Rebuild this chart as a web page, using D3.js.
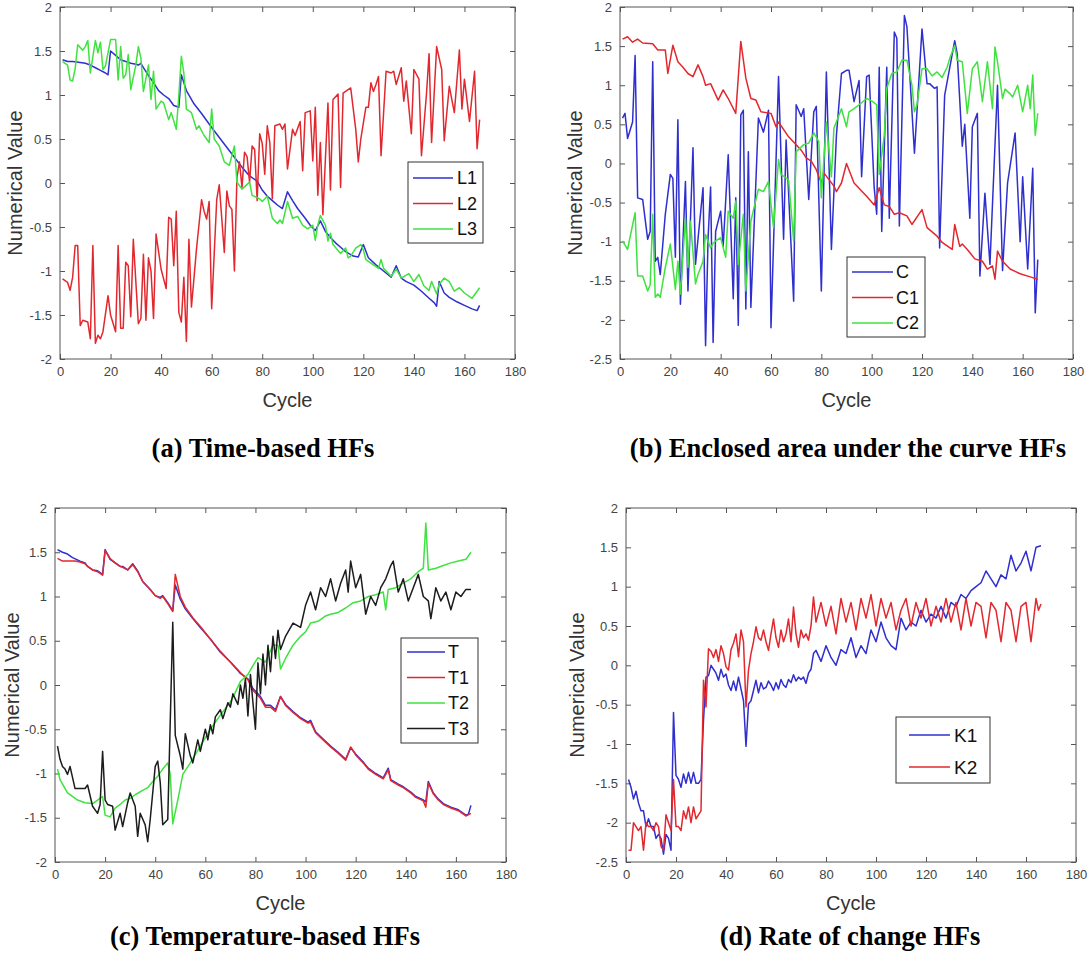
<!DOCTYPE html>
<html>
<head>
<meta charset="utf-8">
<script src="https://cdn.jsdelivr.net/npm/d3@7"></script>
<style>
  body { margin: 0; background: #fff; }
  svg { display: block; font-family: "Liberation Sans", Arial, sans-serif; }
  .tick text { font-size: 13px; fill: #444; }
  .tick line { stroke: #555; }
  .axisLabel { font-size: 20px; fill: #333; }
  .title { font-family: "Liberation Serif", "Times New Roman", serif; font-weight: bold; font-size: 26.5px; fill: #000; }
  .legText { fill: #111; }
</style>
</head>
<body>
<div id="chart"></div>
<script>
// ---- shared ticks ----
let arrXTicks = [0, 20, 40, 60, 80, 100, 120, 140, 160, 180];
let arrYTicksA = [-2, -1.5, -1, -0.5, 0, 0.5, 1, 1.5, 2];
let arrYTicksB = [-2.5, -2, -1.5, -1, -0.5, 0, 0.5, 1, 1.5, 2];

// ---- (a) Time-based HFs : [cycle, value] ----
let arrL1 = [[1,1.40],[3,1.38],[5,1.38],[8,1.37],[10,1.36],[12,1.34],[14,1.31],[16,1.28],[18,1.25],[19,1.23],[20,1.50],[22,1.45],[24,1.40],[26,1.38],[28,1.36],[30,1.35],[31,1.34],[32,1.36],[33,1.31],[35,1.22],[37,1.14],[39,1.05],[41,1.00],[43,0.96],[45,0.88],[47,0.86],[48,1.23],[50,1.05],[53,0.90],[56,0.79],[60,0.63],[64,0.48],[68,0.33],[72,0.18],[75,0.08],[78,0.02],[80,-0.08],[82,-0.15],[84,-0.20],[86,-0.25],[88,-0.29],[90,-0.10],[92,-0.20],[94,-0.29],[97,-0.40],[99,-0.48],[101,-0.54],[103,-0.43],[105,-0.55],[107,-0.62],[109,-0.68],[111,-0.73],[113,-0.78],[116,-0.83],[118,-0.84],[120,-0.70],[122,-0.85],[125,-0.93],[128,-1.00],[131,-1.07],[133,-0.94],[135,-1.08],[137,-1.12],[140,-1.16],[143,-1.23],[146,-1.31],[148,-1.36],[149,-1.40],[150,-1.12],[152,-1.25],[154,-1.30],[157,-1.35],[160,-1.39],[163,-1.43],[165,-1.45],[166,-1.39]];
let arrL2 = [[1,-1.09],[3,-1.13],[4,-1.22],[5,-1.07],[6,-0.71],[7,-0.71],[8,-1.62],[9,-1.56],[11,-1.58],[12,-1.77],[13,-0.71],[14,-1.82],[15,-1.73],[16,-1.77],[17,-1.69],[19,-1.28],[20,-1.50],[22,-1.69],[23,-0.71],[24,-1.65],[25,-1.65],[26,-0.90],[27,-0.94],[28,-1.52],[29,-0.64],[31,-1.60],[32,-1.54],[33,-0.81],[34,-1.56],[35,-0.85],[36,-1.00],[37,-1.54],[38,-0.58],[40,-0.98],[42,-1.20],[43,-0.39],[44,-0.41],[45,-0.94],[46,-0.32],[47,-1.47],[48,-1.58],[49,-1.07],[50,-1.80],[51,-0.64],[52,-1.41],[54,-0.75],[56,-0.19],[57,-0.32],[58,-0.41],[59,-0.21],[60,-1.43],[62,-0.19],[63,-0.02],[65,-0.79],[66,-0.09],[67,-0.26],[68,-0.30],[69,-1.00],[70,0.06],[71,0.24],[72,-0.05],[73,0.35],[74,0.30],[75,0.01],[76,0.42],[77,0.38],[78,-0.20],[79,0.56],[80,0.45],[81,0.10],[82,0.65],[83,0.46],[84,-0.18],[85,0.65],[87,0.67],[88,0.61],[89,0.67],[90,0.16],[92,0.61],[93,0.54],[95,0.70],[96,0.14],[97,0.80],[99,0.82],[100,0.25],[101,0.86],[102,-0.14],[103,0.46],[104,-0.36],[106,0.91],[107,-0.08],[108,0.95],[110,1.01],[111,-0.05],[112,1.02],[115,1.08],[117,0.61],[118,0.24],[119,0.50],[121,0.86],[122,0.86],[123,1.14],[124,1.04],[125,1.12],[126,1.21],[127,0.31],[129,1.27],[131,1.25],[132,1.27],[133,1.12],[135,1.31],[136,0.93],[137,1.16],[139,0.56],[140,1.29],[142,1.18],[143,0.31],[145,1.02],[146,1.47],[147,0.46],[149,1.55],[151,1.29],[152,0.48],[154,1.10],[156,0.80],[158,1.51],[159,0.84],[160,1.18],[162,0.70],[164,1.27],[165,0.39],[166,0.72]];
let arrL3 = [[1,1.38],[3,1.34],[4,1.17],[5,1.16],[6,1.30],[7,1.57],[9,1.51],[10,1.55],[11,1.62],[12,1.25],[14,1.62],[15,1.48],[16,1.60],[17,1.29],[18,1.33],[20,1.63],[22,1.63],[23,1.17],[24,1.55],[25,1.19],[26,1.23],[27,1.46],[28,1.06],[30,1.34],[31,1.55],[32,1.42],[33,1.04],[35,1.34],[36,0.95],[37,1.27],[38,0.84],[40,0.93],[41,0.91],[43,0.72],[44,0.80],[46,0.61],[47,0.99],[48,1.44],[49,1.25],[50,0.84],[52,0.80],[54,0.61],[55,0.65],[57,0.54],[59,0.46],[60,0.84],[61,0.50],[63,0.42],[65,0.24],[67,0.20],[69,0.42],[70,0.01],[72,-0.07],[75,0.01],[76,-0.14],[79,-0.18],[80,-0.21],[82,-0.15],[84,-0.40],[86,-0.46],[87,-0.42],[88,-0.46],[90,-0.21],[92,-0.40],[94,-0.38],[96,-0.48],[98,-0.52],[100,-0.48],[101,-0.65],[102,-0.48],[103,-0.37],[105,-0.48],[106,-0.66],[107,-0.57],[108,-0.70],[111,-0.80],[113,-0.74],[114,-0.85],[115,-0.83],[117,-0.74],[119,-0.70],[120,-0.76],[121,-0.87],[124,-0.93],[126,-0.97],[127,-0.87],[128,-0.97],[131,-1.06],[133,-0.98],[135,-1.08],[138,-1.03],[140,-1.12],[142,-1.04],[144,-1.17],[146,-1.22],[147,-1.12],[149,-1.26],[150,-1.15],[152,-1.08],[154,-1.12],[156,-1.23],[158,-1.19],[160,-1.25],[163,-1.31],[165,-1.23],[166,-1.19]];

// ---- (b) Enclosed area under the curve HFs ----
let arrC = [[1,0.58],[2,0.64],[3,0.32],[5,0.53],[6,1.38],[7,-0.44],[9,-0.46],[11,-0.97],[12,-0.87],[13,1.30],[14,-1.25],[15,-1.20],[16,-1.42],[18,-0.65],[20,-0.14],[21,-0.19],[22,-1.20],[23,0.56],[24,-1.80],[26,-0.23],[27,-1.63],[29,0.20],[30,-1.29],[33,-0.31],[34,-2.33],[35,-0.95],[36,-0.30],[37,-2.29],[38,-0.87],[40,-0.61],[41,-1.06],[43,0.11],[45,-1.73],[46,-0.44],[47,-2.07],[48,0.62],[49,0.68],[50,-1.86],[51,0.15],[52,-1.84],[55,0.58],[57,0.40],[59,0.68],[60,-2.10],[63,1.11],[65,-0.97],[66,0.30],[69,-1.76],[70,0.75],[72,0.60],[73,0.70],[75,-0.46],[77,0.66],[78,0.73],[80,-1.63],[82,1.17],[84,-1.10],[86,0.36],[88,1.15],[90,1.19],[91,1.19],[93,0.79],[95,1.06],[96,-0.17],[98,1.11],[99,1.13],[101,-0.31],[102,-0.65],[103,1.23],[104,-0.87],[106,1.23],[107,-0.70],[109,1.68],[110,1.60],[111,-0.80],[113,1.89],[114,1.75],[117,0.13],[120,1.72],[122,1.02],[123,1.02],[125,0.96],[126,0.98],[127,-1.08],[129,0.87],[133,1.57],[134,1.40],[136,0.22],[137,0.50],[139,-0.70],[140,0.47],[142,0.64],[143,-1.44],[145,-0.38],[147,-1.29],[150,1.00],[152,-1.37],[154,-0.25],[157,0.39],[159,-1.00],[160,-0.17],[162,-1.35],[164,-0.06],[165,-1.91],[166,-1.23]];
let arrC1 = [[1,1.59],[3,1.62],[5,1.55],[7,1.59],[9,1.54],[13,1.53],[15,1.45],[18,1.45],[19,1.15],[21,1.51],[23,1.30],[25,1.23],[27,1.15],[29,1.11],[31,1.26],[33,1.11],[34,1.00],[36,1.02],[39,0.81],[41,0.94],[43,0.83],[46,0.64],[48,1.56],[50,1.09],[52,0.83],[54,0.81],[56,0.66],[60,0.64],[62,0.47],[63,0.53],[67,0.34],[70,0.24],[72,0.17],[74,0.07],[76,0.03],[78,-0.08],[80,-0.25],[81,-0.12],[85,-0.29],[86,-0.36],[88,-0.25],[90,0.00],[93,-0.25],[98,-0.42],[101,-0.53],[103,-0.31],[105,-0.53],[107,-0.55],[109,-0.65],[111,-0.63],[114,-0.67],[116,-0.78],[120,-0.59],[122,-0.82],[126,-0.93],[128,-1.01],[132,-1.10],[133,-0.78],[135,-1.06],[136,-1.03],[138,-1.10],[141,-1.22],[144,-1.25],[146,-1.35],[148,-1.31],[149,-1.48],[150,-1.12],[152,-1.25],[155,-1.35],[159,-1.41],[163,-1.45],[166,-1.48]];
let arrC2 = [[1,-0.99],[3,-1.10],[6,-0.63],[7,-1.44],[9,-1.44],[11,-1.63],[12,-1.55],[13,-0.65],[14,-1.71],[15,-1.67],[16,-1.71],[18,-1.33],[20,-1.03],[22,-1.61],[23,-1.25],[24,-1.67],[26,-0.70],[27,-1.33],[28,-0.74],[30,-1.54],[31,-1.42],[33,-1.25],[34,-0.91],[36,-1.08],[37,-1.02],[38,-0.99],[40,-0.95],[42,-1.20],[43,-0.61],[45,-0.70],[46,-0.48],[47,-1.29],[49,-0.65],[50,-1.63],[52,-0.74],[53,-0.60],[55,-0.33],[57,-0.36],[59,-0.23],[61,-0.82],[63,0.05],[64,-0.14],[67,-0.21],[69,-0.99],[70,0.15],[73,0.24],[75,0.26],[77,0.39],[79,0.28],[80,-0.44],[82,0.53],[84,-0.17],[85,0.45],[88,0.70],[90,0.47],[91,0.66],[93,0.70],[95,0.75],[98,0.83],[100,0.80],[102,0.75],[103,-0.14],[105,0.36],[106,0.96],[108,1.15],[110,1.17],[112,1.32],[114,1.32],[116,1.00],[117,0.66],[118,0.75],[120,1.21],[122,1.21],[124,1.12],[126,1.17],[128,1.10],[130,1.23],[131,1.34],[133,1.51],[134,1.32],[136,1.30],[138,0.64],[140,1.21],[142,1.30],[144,0.79],[146,1.30],[148,0.70],[149,1.49],[150,1.30],[152,0.83],[153,0.95],[155,0.89],[156,0.85],[158,1.00],[160,0.66],[162,1.00],[163,0.70],[164,1.13],[165,0.36],[166,0.64]];

// ---- (c) Temperature-based HFs ----
let arrT = [[1,1.53],[3,1.50],[5,1.48],[7,1.44],[10,1.40],[12,1.38],[13,1.34],[15,1.30],[17,1.29],[19,1.25],[20,1.53],[22,1.42],[24,1.38],[26,1.34],[27,1.34],[29,1.30],[31,1.37],[33,1.29],[35,1.17],[38,1.08],[40,1.01],[42,0.99],[43,1.01],[45,0.93],[47,0.84],[48,1.13],[50,0.97],[52,0.86],[55,0.75],[58,0.65],[62,0.52],[66,0.37],[70,0.26],[74,0.13],[77,0.07],[79,-0.04],[82,-0.13],[84,-0.23],[86,-0.23],[88,-0.28],[90,-0.13],[92,-0.22],[95,-0.30],[98,-0.37],[101,-0.42],[102,-0.40],[104,-0.53],[107,-0.61],[110,-0.69],[113,-0.76],[116,-0.84],[118,-0.71],[120,-0.78],[123,-0.87],[125,-0.94],[128,-1.00],[131,-1.05],[133,-0.94],[134,-1.07],[137,-1.12],[139,-1.15],[142,-1.21],[144,-1.26],[147,-1.30],[148,-1.32],[149,-1.09],[151,-1.22],[153,-1.29],[155,-1.34],[158,-1.38],[161,-1.41],[164,-1.47],[165,-1.46],[166,-1.36]];
let arrT1 = [[1,1.43],[3,1.40],[5,1.40],[8,1.40],[10,1.39],[12,1.37],[13,1.34],[15,1.30],[17,1.28],[19,1.24],[20,1.52],[22,1.43],[24,1.38],[26,1.34],[27,1.33],[29,1.30],[31,1.36],[33,1.28],[35,1.17],[38,1.08],[40,1.01],[42,0.98],[43,1.00],[45,0.92],[47,0.83],[48,1.25],[50,1.00],[52,0.88],[55,0.76],[58,0.66],[62,0.52],[66,0.38],[70,0.26],[74,0.14],[77,0.06],[79,-0.06],[82,-0.15],[84,-0.25],[86,-0.25],[88,-0.30],[90,-0.13],[92,-0.23],[95,-0.31],[98,-0.38],[101,-0.43],[102,-0.42],[104,-0.54],[107,-0.62],[110,-0.70],[113,-0.77],[116,-0.85],[118,-0.70],[120,-0.79],[123,-0.88],[125,-0.95],[128,-1.01],[131,-1.06],[133,-0.96],[134,-1.08],[137,-1.13],[139,-1.16],[142,-1.22],[144,-1.27],[147,-1.31],[148,-1.38],[149,-1.11],[151,-1.23],[153,-1.30],[155,-1.35],[158,-1.39],[161,-1.42],[164,-1.48],[166,-1.45]];
let arrT2 = [[1,-0.95],[2,-1.07],[5,-1.22],[9,-1.30],[12,-1.33],[15,-1.34],[17,-1.30],[19,-1.26],[20,-1.47],[22,-1.49],[24,-1.39],[26,-1.35],[28,-1.30],[30,-1.28],[32,-1.24],[35,-1.19],[37,-1.16],[39,-1.09],[41,-1.03],[43,-0.95],[45,-0.88],[46,-1.01],[47,-1.57],[49,-1.30],[51,-1.01],[54,-0.88],[58,-0.69],[62,-0.50],[66,-0.34],[70,-0.19],[72,-0.08],[74,0.04],[77,0.12],[79,0.22],[81,0.31],[84,0.26],[87,0.45],[89,0.45],[90,0.18],[92,0.30],[95,0.45],[98,0.55],[100,0.60],[102,0.70],[105,0.72],[108,0.78],[110,0.80],[113,0.82],[116,0.87],[119,0.93],[122,0.95],[125,1.00],[128,1.02],[131,1.05],[132,0.85],[133,1.08],[136,1.10],[139,1.15],[142,1.20],[145,1.28],[147,1.32],[148,1.83],[149,1.30],[152,1.32],[155,1.35],[158,1.38],[161,1.40],[164,1.42],[166,1.50]];
let arrT3 = [[1,-0.69],[2,-0.84],[3,-0.92],[4,-0.95],[5,-1.01],[6,-0.92],[8,-1.17],[10,-1.17],[12,-1.17],[13,-1.13],[15,-1.37],[17,-1.45],[18,-1.35],[19,-0.75],[20,-1.30],[21,-1.35],[23,-1.37],[24,-1.64],[26,-1.45],[27,-1.60],[29,-1.33],[30,-1.22],[32,-1.37],[33,-1.71],[34,-1.45],[36,-1.58],[37,-1.77],[38,-1.52],[40,-0.92],[41,-0.86],[42,-1.10],[43,-1.58],[45,-1.52],[47,0.71],[48,-0.57],[50,-0.80],[51,-0.95],[52,-0.55],[54,-0.80],[55,-0.88],[57,-0.62],[58,-0.75],[60,-0.50],[61,-0.62],[62,-0.45],[63,-0.55],[64,-0.36],[66,-0.28],[67,-0.38],[69,-0.20],[70,-0.25],[71,-0.10],[73,-0.22],[74,0.00],[75,-0.15],[76,0.07],[77,-0.35],[78,0.12],[79,-0.20],[80,-0.50],[81,0.25],[82,-0.10],[83,0.35],[84,0.00],[85,0.45],[86,0.15],[87,0.55],[88,0.30],[89,0.62],[90,0.40],[92,0.55],[95,0.70],[98,0.65],[100,0.90],[102,1.05],[104,0.85],[106,1.10],[108,1.00],[110,1.20],[112,0.95],[114,1.15],[116,1.30],[117,1.05],[118,1.40],[120,1.10],[122,1.25],[124,0.80],[126,1.00],[128,0.90],[130,1.10],[132,1.20],[134,1.35],[135,1.40],[137,1.05],[139,1.20],[141,0.95],[143,1.10],[145,1.25],[147,1.00],[149,0.95],[150,0.75],[152,1.10],[154,0.95],[156,1.05],[158,0.85],[160,1.05],[162,1.00],[164,1.08],[166,1.08]];

// ---- (d) Rate of change HFs ----
let arrK1 = [[1,-1.45],[2,-1.55],[3,-1.70],[4,-1.60],[5,-1.75],[6,-1.85],[7,-1.85],[8,-2.05],[9,-1.95],[10,-2.05],[11,-2.05],[12,-2.20],[13,-2.15],[14,-2.20],[15,-2.40],[16,-2.15],[17,-2.20],[18,-2.35],[19,-0.60],[20,-1.40],[21,-1.45],[22,-1.55],[23,-1.38],[24,-1.50],[25,-1.36],[26,-1.50],[27,-1.36],[28,-1.50],[29,-1.50],[30,-1.45],[31,-0.70],[32,-0.15],[33,-0.13],[34,0.00],[35,-0.05],[36,-0.10],[37,-0.19],[38,-0.05],[39,-0.15],[40,-0.11],[41,-0.25],[42,-0.32],[43,-0.20],[44,-0.32],[45,-0.15],[46,-0.30],[47,-0.45],[48,-1.03],[49,-0.49],[50,-0.45],[51,-0.32],[52,-0.19],[53,-0.35],[54,-0.22],[55,-0.30],[56,-0.28],[57,-0.20],[58,-0.25],[59,-0.32],[60,-0.22],[61,-0.30],[62,-0.18],[63,-0.25],[64,-0.28],[65,-0.18],[66,-0.22],[67,-0.12],[68,-0.20],[69,-0.15],[70,-0.18],[71,-0.15],[72,-0.23],[73,-0.10],[74,-0.05],[75,0.15],[76,0.19],[78,0.05],[80,0.25],[82,0.10],[84,0.00],[86,0.20],[88,0.15],[90,0.35],[92,0.10],[94,0.25],[96,0.15],[98,0.45],[100,0.30],[102,0.55],[104,0.35],[106,0.25],[108,0.20],[110,0.60],[112,0.45],[114,0.55],[116,0.50],[118,0.70],[120,0.55],[122,0.65],[124,0.60],[126,0.75],[128,0.60],[130,0.80],[132,0.75],[134,0.90],[136,0.85],[138,0.95],[140,1.00],[142,1.05],[144,1.20],[146,1.10],[148,1.00],[150,1.15],[152,1.10],[154,1.40],[156,1.20],[158,1.30],[160,1.45],[162,1.20],[164,1.50],[166,1.52]];
let arrK2 = [[1,-2.35],[2,-2.35],[3,-2.00],[4,-2.05],[5,-2.10],[6,-2.05],[7,-2.35],[8,-2.00],[9,-2.05],[10,-2.05],[11,-2.10],[12,-2.00],[13,-2.05],[14,-2.30],[15,-2.35],[16,-1.90],[17,-2.00],[18,-2.10],[19,-1.45],[20,-2.05],[21,-2.05],[22,-2.10],[23,-1.85],[24,-1.95],[25,-1.80],[26,-2.00],[27,-1.80],[28,-1.95],[29,-1.90],[30,-1.85],[31,-0.19],[32,-0.53],[33,0.21],[34,0.18],[35,0.10],[36,0.20],[37,0.05],[38,0.25],[39,0.15],[40,-0.02],[41,-0.06],[42,0.20],[43,0.28],[44,0.40],[45,0.11],[46,0.45],[47,0.30],[48,-0.53],[49,-0.06],[50,0.15],[51,0.30],[52,0.49],[53,0.35],[54,0.32],[55,0.45],[56,0.30],[57,0.19],[58,0.40],[59,0.59],[60,0.35],[61,0.23],[62,0.45],[63,0.30],[64,0.40],[65,0.59],[66,0.30],[67,0.74],[68,0.40],[69,0.23],[70,0.45],[71,0.35],[72,0.40],[73,0.32],[74,0.50],[75,0.87],[76,0.55],[78,0.80],[80,0.50],[82,0.75],[84,0.40],[86,0.85],[88,0.55],[90,0.80],[92,0.45],[94,0.85],[96,0.60],[98,0.90],[100,0.50],[102,0.85],[104,0.60],[106,0.80],[108,0.45],[110,0.70],[112,0.85],[114,0.50],[116,0.80],[118,0.60],[120,0.85],[122,0.50],[124,0.75],[126,0.55],[128,0.85],[130,0.55],[132,0.80],[134,0.45],[136,0.85],[138,0.50],[140,0.80],[142,0.75],[144,0.35],[146,0.80],[148,0.70],[150,0.30],[152,0.80],[154,0.70],[156,0.30],[158,0.75],[160,0.80],[162,0.30],[164,0.85],[165,0.70],[166,0.78]];

// line colours (MATLAB-like)
let strBlue = "#2f2fcf";
let strRed = "#e2282e";
let strGreen = "#3fe23f";
let strBlack = "#1c1c1c";

// panel layout
let arrPanels = [
  { left: 60, top: 7, width: 455, height: 352, yDomain: [-2, 2], yTicks: arrYTicksA,
    series: [{ name: "L1", data: arrL1, color: strBlue }, { name: "L2", data: arrL2, color: strRed }, { name: "L3", data: arrL3, color: strGreen }],
    legend: { x: 408, y: 162, w: 75, h: 81, rowY: 16, rowGap: 25.5, lx1: 5, lx2: 45, tx: 49, size: 18 },
    yLabelX: 15, title: "(a) Time-based HFs", titleX: 263, titleY: 448 },
  { left: 620, top: 7, width: 453, height: 352, yDomain: [-2.5, 2], yTicks: arrYTicksB,
    series: [{ name: "C", data: arrC, color: strBlue }, { name: "C1", data: arrC1, color: strRed }, { name: "C2", data: arrC2, color: strGreen }],
    legend: { x: 847, y: 257, w: 78, h: 80, rowY: 15, rowGap: 25.5, lx1: 5, lx2: 46, tx: 49, size: 18 },
    yLabelX: 575, title: "(b) Enclosed area under the curve HFs", titleX: 848, titleY: 448 },
  { left: 55, top: 508, width: 451, height: 354, yDomain: [-2, 2], yTicks: arrYTicksA,
    series: [{ name: "T", data: arrT, color: strBlue }, { name: "T1", data: arrT1, color: strRed }, { name: "T2", data: arrT2, color: strGreen }, { name: "T3", data: arrT3, color: strBlack }],
    legend: { x: 401, y: 638, w: 77, h: 105, rowY: 14, rowGap: 25.5, lx1: 6, lx2: 44, tx: 47, size: 18 },
    yLabelX: 12, title: "(c) Temperature-based HFs", titleX: 265, titleY: 936 },
  { left: 626, top: 508, width: 450, height: 354, yDomain: [-2.5, 2], yTicks: arrYTicksB,
    series: [{ name: "K1", data: arrK1, color: strBlue }, { name: "K2", data: arrK2, color: strRed }],
    legend: { x: 896, y: 717, w: 94, h: 66, rowY: 18, rowGap: 32, lx1: 13, lx2: 54, tx: 58, size: 19 },
    yLabelX: 577, title: "(d) Rate of change HFs", titleX: 850, titleY: 936 }
];

let svg = d3.select("#chart")
  .append("svg")
  .attr("width", 1090)
  .attr("height", 961);

arrPanels.forEach(objP => {
  let g = svg.append("g")
    .attr("transform", `translate(${objP.left}, ${objP.top})`);

  let fnX = d3.scaleLinear().domain([0, 180]).range([0, objP.width]);
  let fnY = d3.scaleLinear().domain(objP.yDomain).range([objP.height, 0]);

  // axes: ticks point inward, on all four sides
  g.append("g")
    .attr("transform", `translate(0, ${objP.height})`)
    .call(d3.axisBottom(fnX).tickValues(arrXTicks).tickSizeInner(-5).tickSizeOuter(0).tickPadding(8))
    .call(a => a.select(".domain").remove());
  g.append("g")
    .call(d3.axisLeft(fnY).tickValues(objP.yTicks).tickSizeInner(-5).tickSizeOuter(0).tickPadding(8).tickFormat(d => String(d)))
    .call(a => a.select(".domain").remove());
  g.append("g")
    .call(d3.axisTop(fnX).tickValues(arrXTicks).tickSizeInner(-5).tickSizeOuter(0).tickFormat(""))
    .call(a => a.select(".domain").remove());
  g.append("g")
    .attr("transform", `translate(${objP.width}, 0)`)
    .call(d3.axisRight(fnY).tickValues(objP.yTicks).tickSizeInner(-5).tickSizeOuter(0).tickFormat(""))
    .call(a => a.select(".domain").remove());

  // series lines
  let fnLine = d3.line()
    .x(d => fnX(d[0]))
    .y(d => fnY(d[1]));
  objP.series.forEach(objS => {
    g.append("path")
      .datum(objS.data)
      .attr("fill", "none")
      .attr("stroke", objS.color)
      .attr("stroke-width", 1.5)
      .attr("stroke-linejoin", "round")
      .attr("d", fnLine);
  });

  // box
  g.append("rect")
    .attr("width", objP.width)
    .attr("height", objP.height)
    .attr("fill", "none")
    .attr("stroke", "#555")
    .attr("stroke-width", 1);

  // axis labels
  svg.append("text")
    .attr("class", "axisLabel")
    .attr("text-anchor", "middle")
    .attr("x", objP.left + objP.width / 2)
    .attr("y", objP.top + objP.height + 48)
    .text("Cycle");
  svg.append("text")
    .attr("class", "axisLabel")
    .attr("text-anchor", "middle")
    .attr("transform", `translate(${objP.yLabelX}, ${objP.top + objP.height / 2}) rotate(-90)`)
    .attr("dy", "0.35em")
    .text("Numerical Value");

  // legend
  let objL = objP.legend;
  let gL = svg.append("g").attr("transform", `translate(${objL.x}, ${objL.y})`);
  gL.append("rect")
    .attr("width", objL.w)
    .attr("height", objL.h)
    .attr("fill", "#fff")
    .attr("stroke", "#333")
    .attr("stroke-width", 1);
  objP.series.forEach((objS, i) => {
    let intY = objL.rowY + i * objL.rowGap;
    gL.append("line")
      .attr("x1", objL.lx1).attr("x2", objL.lx2)
      .attr("y1", intY).attr("y2", intY)
      .attr("stroke", objS.color)
      .attr("stroke-width", 1.5);
    gL.append("text")
      .attr("class", "legText")
      .attr("x", objL.tx)
      .attr("y", intY)
      .attr("dy", "0.35em")
      .attr("font-size", objL.size)
      .text(objS.name);
  });

  // panel title
  svg.append("text")
    .attr("class", "title")
    .attr("text-anchor", "middle")
    .attr("x", objP.titleX)
    .attr("y", objP.titleY)
    .attr("dy", "0.35em")
    .text(objP.title);
});
</script>
</body>
</html>
